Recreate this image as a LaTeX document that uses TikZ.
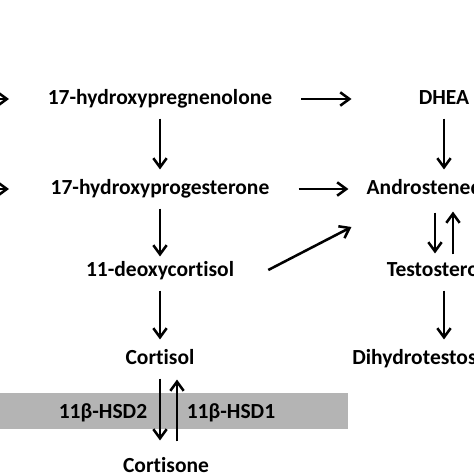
\documentclass[tikz,border=0pt]{standalone}
\usepackage{fontspec}
\setmainfont{Carlito}[Ligatures=NoCommon]
\usetikzlibrary{arrows.meta}
\definecolor{hsdgray}{RGB}{180,180,180}

\begin{document}
\begin{tikzpicture}[x=0.025cm,y=-0.025cm,line width=1.8pt,
    >={Straight Barb[length=6.5pt,width=9.5pt]},
    met/.style={font=\fontsize{15.3}{18}\selectfont\bfseries,inner xsep=0pt,inner ysep=6pt,
        text height=11pt,text depth=3pt}]
    \useasboundingbox (0,0) rectangle (474,474);
    \clip (0,0) rectangle (474,474);
    \fill[hsdgray] (0,393) rectangle (348,429);
    \node[met] (A) at (160,99) {17-hydroxypregnenolone};
    \node[met] (B) at (444,99) {DHEA};
    \node[met] (E) at (160,189) {17-hydroxyprogesterone};
    \node[met] (C) at (444,189) {Androstenedione};%A%
    \node[met] (F) at (160,271) {11-deoxycortisol};
    \node[met] (D) at (444,271) {Testosterone};
    \node[met] (G) at (160,359) {Cortisol};
    \node[met] (H) at (444,359) {Dihydrotestosterone};
    \node[met] (I) at (166,467) {Cortisone};%B%
    \node[met] (K2) at (103,413) {11β-HSD2};
    \node[met] (K1) at (231,413) {11β-HSD1};
    \coordinate (p1) at (-40,99);
    \coordinate (p2) at (9,99);
    \coordinate (q1) at (-40,189);
    \coordinate (q2) at (9,189);
    \draw [->](p1) -- (p2);
    \draw [->](q1) -- (q2);
    \draw [->,shorten <=0.7cm,shorten >=1.65cm](A) -- (B);
    \draw [->,shorten <=0.7cm,shorten >=0.425cm](E) -- (C);
    \draw [->](A) -- (E);
    \draw [->](B) -- (C);
    \draw [->](E.south) -- ([shift={(0,5)}]F.north);
    \draw [->]([shift={(33,-1)}]F.east) -- ([shift={(-14,38)}]C.west);
    \draw [->]([shift={(-9,4)}]C.south) -- ([shift={(-9,2)}]D.north);
    \draw [->]([shift={(9,3)}]D.north) -- ([shift={(9,3)}]C.south);
    \draw [->](F) -- (G);
    \draw [->](D) -- (H);
    \draw [->](G.south) -- ([shift={(-6,-7)}]I.north);
    \draw [->]([shift={(11,-6)}]I.north) -- ([shift={(17,1)}]G.south);
\end{tikzpicture}
\end{document}
